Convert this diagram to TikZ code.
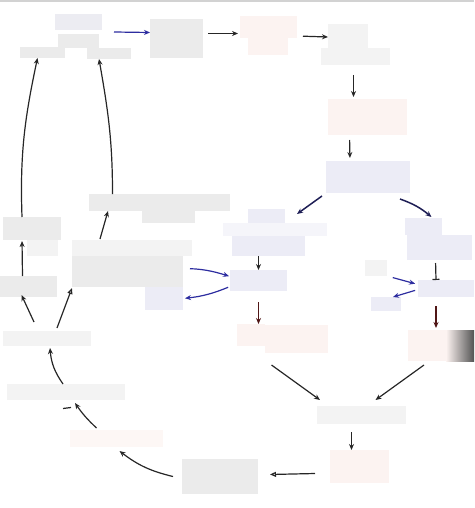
\documentclass[tikz,border=0pt]{standalone}
\usepackage{tikz}
\usetikzlibrary{arrows.meta}

\definecolor{graybox}{RGB}{235,235,235}
\definecolor{lightbox}{RGB}{243,243,243}
\definecolor{lavbox}{RGB}{236,236,246}
\definecolor{pinkbox}{RGB}{252,243,241}
\definecolor{penblue}{RGB}{45,45,160}
\definecolor{pennavy}{RGB}{30,30,85}
\definecolor{penred}{RGB}{80,22,22}

\begin{document}
\begin{tikzpicture}[x=1pt,y=-1pt,
    blk/.style={draw=none,inner sep=0pt,outer sep=0pt},
    arr/.style={-{Stealth[length=6pt,width=5pt]},line width=1.2pt,black!85},
    arrb/.style={arr,penblue},
    arrn/.style={arr,pennavy,line width=1.5pt},
    arrr/.style={arr,penred},
    arro/.style={-{Triangle[open,length=6pt,width=5pt]},line width=1.2pt,black!85}]
    \useasboundingbox (0,0) rectangle (474,508);
    \fill[gray!35] (0,0) rectangle (474,2.5);

    % boxes, left column
    \node[blk,fill=lavbox!60!graybox,minimum width=47pt,minimum height=16pt] (a1) at (78.5,22) {};
    \node[blk,fill=graybox,minimum width=41pt,minimum height=14pt] (a2) at (78.5,41) {};
    \node[blk,fill=graybox,minimum width=45pt,minimum height=11pt] (a3) at (42.5,52.5) {};
    \node[blk,fill=graybox,minimum width=44pt,minimum height=11pt] (a4) at (109,53.5) {};
    \node[blk,fill=graybox,minimum width=53pt,minimum height=39pt] (b) at (176.5,38.5) {};
    \node[blk,fill=pinkbox,minimum width=57pt,minimum height=22pt] (c1) at (268.5,27) {};
    \node[blk,fill=pinkbox,minimum width=40pt,minimum height=17pt] (c2) at (268,46.5) {};
    \node[blk,fill=lightbox,minimum width=40pt,minimum height=26pt] (d1) at (348,37) {};
    \node[blk,fill=lightbox,minimum width=69pt,minimum height=17pt] (d2) at (355.5,56.5) {};
    \node[blk,fill=pinkbox,minimum width=79pt,minimum height=36pt] (e) at (367.5,117) {};
    \node[blk,fill=lavbox,minimum width=84pt,minimum height=32pt] (f) at (368,177) {};

    % middle branch
    \node[blk,fill=lavbox,minimum width=37pt,minimum height=14pt] (g1) at (266.5,216) {};
    \node[blk,fill=lavbox!50!white,minimum width=104pt,minimum height=13pt] (g2) at (275,229.5) {};
    \node[blk,fill=lavbox,minimum width=73pt,minimum height=20pt] (g3) at (268.5,246) {};
    \node[blk,fill=lavbox,minimum width=57pt,minimum height=21pt] (h) at (258.5,280.5) {};
    \node[blk,fill=pinkbox,minimum width=28pt,minimum height=22pt] (i1) at (251,335) {};
    \node[blk,fill=pinkbox,minimum width=63pt,minimum height=28pt] (i2) at (296.5,339) {};

    % right branch
    \node[blk,fill=lavbox,minimum width=37pt,minimum height=17pt] (j1) at (423.5,226.5) {};
    \node[blk,fill=lavbox,minimum width=65pt,minimum height=25pt] (j2) at (439.5,247.5) {};
    \node[blk,fill=lavbox,minimum width=56pt,minimum height=17pt] (k) at (446,288.5) {};
    \node[blk,fill=lightbox,minimum width=22pt,minimum height=16pt] (l) at (376,268) {};
    \node[blk,fill=lavbox,minimum width=30pt,minimum height=14pt] (m) at (386,304) {};
    \node[blk,fill=pinkbox,minimum width=66pt,minimum height=31pt] (n) at (441,345.5) {};
    \shade[left color=pinkbox,right color=gray!65!black] (446,330) rectangle (474,361);

    % bottom
    \node[blk,fill=lightbox,minimum width=89pt,minimum height=18pt] (o) at (361.5,415) {};
    \node[blk,fill=pinkbox,minimum width=59pt,minimum height=33pt] (p) at (359.5,466.5) {};
    \node[blk,fill=graybox,minimum width=76pt,minimum height=35pt] (q) at (220,476.5) {};
    \node[blk,fill=pinkbox!70!white,minimum width=93pt,minimum height=17pt] (r) at (116.5,438.5) {};
    \node[blk,fill=lightbox,minimum width=118pt,minimum height=16pt] (s) at (66,392) {};
    \node[blk,fill=lightbox,minimum width=88pt,minimum height=15pt] (t) at (47,338.5) {};
    \node[blk,fill=graybox,minimum width=57pt,minimum height=21pt] (u) at (28.5,286.5) {};
    \node[blk,fill=graybox,minimum width=58pt,minimum height=23pt] (v1) at (32,228.5) {};
    \node[blk,fill=lightbox,minimum width=31pt,minimum height=16pt] (v2) at (42.5,248) {};
    \node[blk,fill=lightbox,minimum width=120pt,minimum height=16pt] (w1) at (132,248) {};
    \node[blk,fill=graybox,minimum width=111pt,minimum height=31pt] (w2) at (127.5,271.5) {};
    \node[blk,fill=graybox,minimum width=141pt,minimum height=17pt] (x1) at (159.5,202.5) {};
    \node[blk,fill=graybox,minimum width=53pt,minimum height=12pt] (x2) at (168.5,217) {};
    \node[blk,fill=lavbox,minimum width=38pt,minimum height=23pt] (y) at (164,298.5) {};

    % connectors
    \draw[arrb] ([xshift=15pt,yshift=2pt]a2.north east) -- ([yshift=6pt]b.west);
    \draw[arr,shorten <=5pt,shorten >=2pt] ([yshift=5pt]b.east) -- ([yshift=5pt]b.east -| c1.west);
    \draw[arr,shorten <=6pt] ([yshift=-9pt]c1.east) -- (d1.west);
    \draw[arr,shorten <=10pt,shorten >=2pt] ([xshift=-14pt]e.north |- d2.south) -- ([xshift=-14pt]e.north);
    \draw[arr,shorten <=5pt,shorten >=3pt] ([xshift=-18pt]e.south) -- ([xshift=-18pt]f.north);
    \draw[arrn] ([xshift=-4pt,yshift=-3pt]f.south west) -- ([xshift=12pt,yshift=-5pt]g1.north east);
    \draw[arrn] ([xshift=-10pt,yshift=-6pt]f.south east) to[bend left=10] ([xshift=8pt,yshift=1pt]j1.north);
    \draw[arr] (h.north |- g3.south) -- (h.north);
    \draw[arrr,shorten <=11pt] (h.south) -- (h.south |- i1.north);
    \draw[-{Bar[width=7pt]},line width=1.2pt,black!85,shorten <=3pt] ([xshift=-4pt]j2.south) -- ([xshift=-10pt]k.north);
    \draw[arrr,shorten <=9pt,shorten >=2pt] ([xshift=-10pt]k.south) -- ([xshift=-5pt]n.north);
    \draw[arrb,shorten <=6pt,shorten >=3pt] (l.south east) -- ([yshift=4pt]k.west);
    \draw[arrb,shorten <=3pt] ([yshift=-1pt]k.west) -- ([xshift=-8pt]m.north east);
    \draw[arrb,shorten <=7pt,shorten >=1pt] ([yshift=3pt]w2.east) to[bend left=8] ([yshift=4pt]h.west);
    \draw[arrb,shorten <=2pt,shorten >=2pt] ([yshift=-6pt]h.west) to[bend left=8] (y.east);
    \draw[arr] ([xshift=-25pt,yshift=-12pt]i2.south) -- ([xshift=3pt,yshift=6pt]o.north west);
    \draw[arr] ([xshift=-17pt,yshift=-4pt]n.south) -- ([xshift=14pt,yshift=6pt]o.north);
    \draw[arr] ([xshift=-10pt,yshift=-8pt]o.south) -- ([xshift=-8pt]p.north);
    \draw[arro] ([xshift=-15pt,yshift=-7pt]p.west) -- ([xshift=12pt,yshift=2pt]q.east);
    \draw[arr] ([xshift=-9pt]q.west) to[bend left=12] ([xshift=3pt,yshift=-4pt]r.south);
    \draw[arr] ([xshift=-20pt,yshift=2pt]r.north) to[bend left=6] ([xshift=9pt,yshift=-3pt]s.south);
    \draw[line width=1.2pt,black!85] ([xshift=-3pt,yshift=-8.5pt]s.south) -- ([xshift=5pt,yshift=-7.5pt]s.south);
    \draw[arr] ([xshift=-3pt]s.north) to[bend left=15] ([xshift=3pt,yshift=-2pt]t.south);
    \draw[arr] ([xshift=-13pt,yshift=9pt]t.north) -- ([xshift=-7pt,yshift=2pt]u.south);
    \draw[arro] ([xshift=10pt,yshift=3pt]t.north) -- ([yshift=-1pt]w2.south west);
    \draw[arr,shorten >=1pt] ([xshift=-6pt]u.north) -- ([xshift=-10pt]v1.south);
    \draw[arr] ([xshift=-10pt]v1.north) to[out=92,in=-102] ([xshift=-5pt]a3.south);
    \draw[arr] ([xshift=-47pt]x1.north) to[out=90,in=-80] ([xshift=-10pt]a4.south);
    \draw[arr] ([xshift=-32pt,yshift=1pt]w1.north) -- ([xshift=19pt]x1.south west);
\end{tikzpicture}
\end{document}
